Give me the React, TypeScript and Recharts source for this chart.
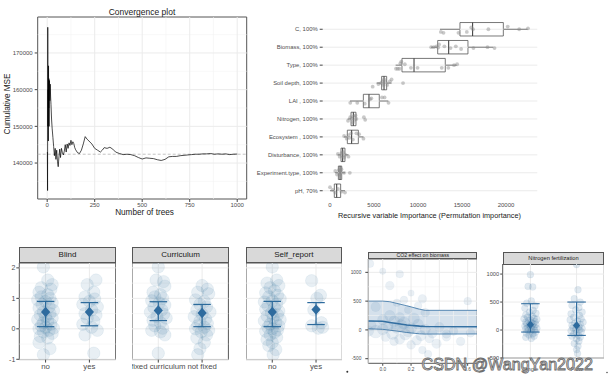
import React from 'react';
import {
  LineChart, Line, XAxis, YAxis, ReferenceLine, ReferenceArea,
  ScatterChart, Scatter, ComposedChart, Area,
} from 'recharts';

const FONT = "'Liberation Sans', Arial, sans-serif";
const BLUE = '#2E6B9E';

// ---------- Convergence plot ----------
const treeCounts = [1,2,3,4,5,6,7,8,9,10,12,14,16,18,20,23,26,30,34,38,42,46,50,54,58,62,66,70,75,80,85,90,95,100,105,110,115,120,125,130,135,140,145,150,160,170,180,190,200,210,220,235,250,265,280,290,300,315,330,345,360,380,400,420,440,460,480,500,520,540,560,580,600,620,640,660,680,700,720,740,760,780,800,820,840,860,880,900,920,940,960,980,1000];
const cumulativeMse = [143000,132500,177000,150000,160000,146000,166500,155000,163000,150000,162500,157000,161500,158000,156000,152000,149500,147000,144500,142000,144000,141000,143500,140500,139000,141800,143800,141500,144000,142800,142200,143200,145000,143000,145200,144000,145500,144800,146200,145000,145800,145300,144200,143600,142800,142600,143500,145200,147200,146500,146000,145200,144000,143500,143000,143500,144200,144000,144300,143800,143000,142600,142300,142400,142300,142000,141500,141100,141400,141300,141200,140900,140700,141000,141700,141800,141800,142000,142100,142200,142300,142400,142400,142500,142500,142600,142400,142500,142400,142500,142300,142400,142450];
const convXTicks = [0, 250, 500, 750, 1000];
const convXMinor = [125, 375, 625, 875];
const convYTicks = [140000, 150000, 160000, 170000];
const convYMinor = [135000, 145000, 155000, 165000, 175000];
const convFinalMse = 142400;

// ---------- Importance boxplot ----------
const impLabels = ['C, 100%','Biomass, 100%','Type, 100%','Soil depth, 100%','LAI , 100%','Nitrogen, 100%','Ecosystem , 100%','Disturbance, 100%','Experiment.type, 100%','pH, 70%'];
const boxMin = [12500, 11480, 7460, 5300, 2270, 2010, 1590, 870, 570, 0];
const boxQ1  = [14770, 12240, 8180, 5870, 3790, 2390, 1970, 1250, 950, 490];
const boxMed = [16210, 13490, 9550, 6140, 4430, 2650, 2460, 1440, 1140, 760];
const boxQ3  = [19700, 15680, 13100, 6440, 5600, 2950, 3220, 1700, 1330, 1210];
const boxMax = [22460, 18560, 14400, 7000, 6630, 3030, 3800, 2100, 1700, 1700];
const impXTicks = [0, 5000, 10000, 15000, 20000];
// [row index (0 = C), importance, vertical jitter]
const impPoints: [number, number, number][] = [
  [0,12600,-0.15],[0,12900,-0.2],[0,14600,-0.2],[0,15550,-0.15],[0,16050,0.1],[0,16250,0.0],[0,18000,0.0],[0,20200,0.15],[0,21500,0.0],[0,22500,0.05],
  [1,11500,0],[1,11800,0.0],[1,12100,0.05],[1,12300,-0.02],[1,12400,0.15],[1,13000,0.05],[1,13700,-0.05],[1,14300,0.05],[1,14900,-0.1],[1,16300,-0.05],[1,17900,0.0],[1,18700,-0.05],
  [2,7500,-0.2],[2,7700,-0.2],[2,7900,-0.2],[2,8000,0.1],[2,8100,0.2],[2,8500,0.05],[2,9200,-0.15],[2,9950,-0.15],[2,12700,-0.15],[2,13450,-0.15],[2,14100,0.0],[2,14450,0.05],
  [3,4850,-0.2],[3,5500,-0.05],[3,5800,0.0],[3,5950,0.1],[3,6050,-0.1],[3,6150,0.2],[3,6300,0.05],[3,6500,-0.1],[3,6800,0.1],[3,7000,0.2],[3,8300,0.0],
  [4,2300,-0.1],[4,3100,-0.1],[4,3950,-0.15],[4,4550,0.1],[4,4700,0.15],[4,5900,0.2],[4,6200,0.2],[4,6650,-0.1],
  [5,2050,-0.1],[5,2300,0.1],[5,2500,0.0],[5,2600,-0.2],[5,2700,0.15],[5,2800,-0.05],[5,2900,0.2],[5,3000,0.0],[5,3850,0.1],[5,4000,-0.05],
  [6,1600,0.05],[6,1900,-0.1],[6,2100,0.1],[6,2200,-0.05],[6,2400,0.2],[6,2600,-0.15],[6,3000,0.2],[6,3300,0.15],[6,3800,-0.1],
  [7,900,0.05],[7,1100,-0.1],[7,1300,0.1],[7,1400,-0.05],[7,1500,0.15],[7,1600,-0.15],[7,1750,0.0],[7,2100,-0.1],
  [8,600,0.1],[8,800,-0.1],[8,1000,0.15],[8,1100,-0.1],[8,1200,0.05],[8,1300,0.2],[8,1600,0.0],[8,2250,0.0],
  [9,0,0.2],[9,300,0.05],[9,600,-0.1],[9,900,0.1],[9,1300,-0.05],[9,1700,-0.1],
];

// ---------- Facet panels (effect sizes) ----------
const blindCats = ['no', 'yes'];
const currCats = ['fixed curriculum', 'not fixed'];
const selfCats = ['no', 'yes'];
const blindNo: [number, number][] = [[-0.05,2.03],[0.05,1.6],[0.15,1.45],[-0.1,1.35],[0.12,1.3],[-0.15,1.2],[0.05,1.12],[-0.1,1.05],[0.1,1.0],[-0.18,0.95],[0.0,0.9],[0.15,0.85],[-0.08,0.8],[0.08,0.72],[-0.15,0.68],[0.18,0.6],[-0.05,0.55],[0.1,0.5],[-0.12,0.45],[0.0,0.4],[0.15,0.35],[-0.18,0.3],[0.05,0.25],[-0.05,0.2],[0.12,0.15],[-0.1,0.1],[0.0,0.05],[0.18,0.02],[-0.15,0.0],[0.08,-0.05],[-0.05,-0.1],[0.15,-0.15],[-0.12,-0.25],[0.05,-0.3],[-0.15,-0.45],[0.1,-0.65],[-0.05,-0.85]];
const blindYes: [number, number][] = [[0.15,1.6],[-0.05,1.45],[0.1,1.2],[-0.1,1.05],[0.12,0.98],[0.0,0.9],[-0.15,0.8],[0.18,0.72],[0.05,0.62],[-0.1,0.5],[0.15,0.45],[-0.05,0.35],[0.1,0.25],[-0.15,0.15],[0.05,0.05],[0.18,-0.05],[-0.1,-0.2],[0.1,-0.8]];
const currFixed: [number, number][] = [[0.0,2.03],[-0.05,1.6],[0.12,1.55],[0.15,1.4],[-0.12,1.2],[0.05,1.12],[-0.08,1.05],[0.1,1.0],[-0.15,0.92],[0.02,0.85],[0.15,0.78],[-0.1,0.7],[0.08,0.62],[-0.18,0.55],[0.12,0.48],[-0.03,0.4],[0.18,0.35],[-0.12,0.28],[0.05,0.2],[-0.08,0.1],[0.1,0.02],[-0.15,-0.05],[0.05,-0.1],[0.15,-0.2],[0.0,-0.8]];
const currNotFixed: [number, number][] = [[0.0,1.42],[0.12,1.3],[-0.1,1.2],[0.15,1.15],[-0.15,0.95],[0.05,0.9],[-0.05,0.8],[0.1,0.72],[-0.12,0.62],[0.18,0.55],[0.0,0.48],[-0.18,0.4],[0.08,0.32],[-0.05,0.25],[0.12,0.18],[-0.1,0.1],[0.05,0.05],[-0.15,0.0],[0.15,-0.05],[-0.02,-0.1],[0.1,-0.2],[-0.12,-0.3],[0.05,-0.45],[-0.05,-0.65],[-0.1,-0.85]];
const selfNo: [number, number][] = [[0.0,2.03],[0.1,1.6],[-0.12,1.5],[0.15,1.42],[-0.05,1.35],[0.05,1.25],[-0.15,1.18],[0.12,1.1],[-0.08,1.05],[0.18,0.98],[0.0,0.92],[-0.18,0.88],[0.1,0.82],[-0.1,0.76],[0.05,0.7],[-0.15,0.64],[0.15,0.58],[-0.02,0.52],[0.12,0.46],[-0.12,0.42],[0.02,0.36],[0.18,0.3],[-0.18,0.26],[0.08,0.2],[-0.05,0.15],[0.15,0.1],[-0.1,0.05],[0.0,0.0],[0.12,-0.04],[-0.15,-0.08],[0.05,-0.12],[-0.05,-0.2],[0.1,-0.28],[-0.12,-0.35],[0.0,-0.45],[-0.08,-0.55],[0.08,-0.68],[0.02,-0.85]];
const selfYes: [number, number][] = [[-0.1,1.58],[0.1,1.1],[0.02,1.0],[-0.05,0.62],[0.12,0.2],[-0.1,0.1],[0.05,0.02],[0.15,0.05]];
const blindMean = [0.55, 0.55], blindLo = [0.07, 0.1], blindHi = [0.9, 0.86];
const currMean = [0.6, 0.52], currLo = [0.27, 0.07], currHi = [0.89, 0.8];
const selfMean = [0.55, 0.63], selfLo = [0.07, 0.14], selfHi = [0.9, 0.86];
const facetYTicks = [-1, 0, 1, 2];
const facetYMinor = [-0.5, 0.5, 1.5];

// ---------- CO2 effect on biomass ----------
const co2X     = [-0.102, 0.0, 0.05, 0.1, 0.17, 0.26, 0.3, 0.668];
const co2Upper = [500, 500, 490, 460, 420, 360, 340, 340];
const co2Mid   = [155, 150, 130, 110, 85, 65, 60, 55];
const co2Lower = [20, 10, -5, -20, -45, -68, -72, -70];
// [co2 increase, biomass effect, weight]
const co2Points: [number, number, number][] = [[-0.09,1150,2],[0.0,1020,1],[0.12,970,2],[0.05,770,3],[0.2,640,1],[0.28,540,3],[0.15,520,2],[0.6,500,2],[0.1,470,2],[0.25,420,2],[-0.05,400,4],[0.18,350,2],[0.3,300,3],[0.05,250,5],[0.12,220,4],[0.22,200,6],[0.0,180,5],[0.08,150,6],[0.15,120,8],[0.25,100,5],[-0.08,80,4],[0.03,60,8],[0.1,40,7],[0.2,30,6],[0.3,10,5],[0.4,50,4],[0.5,-20,3],[-0.05,-30,9],[0.07,-60,8],[0.16,-80,6],[0.27,-100,5],[0.35,-60,4],[-0.1,-20,5],[0.02,-120,4],[0.12,-160,5],[0.24,-180,4],[0.33,-150,3],[0.45,-120,3],[0.55,-200,3],[0.2,-260,3],[0.38,-240,4],[0.28,-350,2],[0.32,-420,2],[0.45,-70,3],[0.62,-50,3],[0.08,-200,3],[0.0,10,6],[0.13,80,7],[0.18,-20,7]];
const co2XTicks = [0, 0.2, 0.4, 0.6];
const co2XMinor = [-0.1, 0.1, 0.3, 0.5];
const bigYTicks = [-500, 0, 500, 1000];
const bigYMinor = [-250, 250, 750];

// ---------- Nitrogen fertilization ----------
const nitroCats = ['Single', 'Flow'];
const nitroSingle: [number, number][] = [[0.0,990],[-0.05,780],[0.05,770],[0.02,520],[-0.08,480],[0.1,430],[-0.12,390],[0.06,350],[-0.02,320],[0.12,300],[-0.1,270],[0.04,250],[-0.06,230],[0.08,210],[-0.14,200],[0.14,190],[0.0,180],[-0.04,165],[0.1,150],[-0.1,140],[0.02,130],[0.06,120],[-0.08,110],[0.12,100],[-0.02,90],[0.04,80],[-0.12,70],[0.08,60],[0.0,50],[-0.06,40],[0.14,30],[-0.1,20],[0.03,10],[0.09,0],[-0.05,-10],[0.0,-25],[0.11,-40],[-0.09,-55],[0.05,-70],[-0.03,-90],[0.08,-110],[-0.1,-130],[0.02,-150]];
const nitroSecond: [number, number][] = [[0.0,1170],[0.03,720],[-0.05,560],[0.08,500],[-0.1,440],[0.05,400],[-0.02,360],[0.12,320],[-0.12,290],[0.06,260],[-0.06,230],[0.1,200],[-0.14,180],[0.02,160],[0.14,140],[-0.04,120],[0.08,100],[-0.1,85],[0.0,70],[0.05,55],[-0.08,40],[0.12,25],[-0.02,10],[0.06,0],[-0.12,-15],[0.1,-30],[0.0,-50],[-0.06,-70],[0.04,-90],[-0.1,-110],[0.08,-130],[0.0,-160],[0.05,-200],[-0.05,-240],[0.03,-290],[0.0,-350],[0.02,-420]];
const nitroMean = [95, 82], nitroLo = [-36, -96], nitroHi = [470, 500];

// ---------- helpers ----------
const xTick = (size: number, fmt: (v: any) => string = (v) => String(v)) => (p: any) => (
  <text x={p.x} y={p.y} dy="0.72em" textAnchor="middle" fontSize={size} fill="#4D4D4D" fontFamily={FONT}>
    {fmt(p.payload.value)}
  </text>
);
const yTick = (size: number, fmt: (v: any) => string = (v) => String(v)) => (p: any) => (
  <text x={p.x} y={p.y} dy="0.36em" textAnchor="end" fontSize={size} fill="#4D4D4D" fontFamily={FONT}>
    {fmt(p.payload.value)}
  </text>
);
const hLines = (vals: number[], color: string, w: number, pfx: string) =>
  vals.map((v) => <ReferenceLine key={pfx + v} y={v} stroke={color} strokeWidth={w} />);
const vLines = (vals: number[], color: string, w: number, pfx: string) =>
  vals.map((v) => <ReferenceLine key={pfx + v} x={v} stroke={color} strokeWidth={w} />);
const border = (x1: number, x2: number, y1: number, y2: number) => (
  <ReferenceArea x1={x1} x2={x2} y1={y1} y2={y2} fill="none" fillOpacity={0} stroke="#555" strokeWidth={1} ifOverflow="visible" />
);
const diamond = (hw: number, hh: number) => (p: any) => (
  <polygon points={`${p.cx},${p.cy - hh} ${p.cx + hw},${p.cy} ${p.cx},${p.cy + hh} ${p.cx - hw},${p.cy}`} fill={BLUE} />
);
const errorBars = (means: number[], lo: number[], hi: number[], half: number, pfx: string, w: number) =>
  means.flatMap((_, i) => {
    const c = i + 1;
    return [
      <ReferenceLine key={pfx + 'v' + i} segment={[{ x: c, y: lo[i] }, { x: c, y: hi[i] }]} stroke={BLUE} strokeWidth={w} ifOverflow="visible" />,
      <ReferenceLine key={pfx + 'l' + i} segment={[{ x: c - half, y: lo[i] }, { x: c + half, y: lo[i] }]} stroke={BLUE} strokeWidth={w} ifOverflow="visible" />,
      <ReferenceLine key={pfx + 'h' + i} segment={[{ x: c - half, y: hi[i] }, { x: c + half, y: hi[i] }]} stroke={BLUE} strokeWidth={w} ifOverflow="visible" />,
    ];
  });

function Strip({ left, top, width, height, text, size }: any) {
  return (
    <div style={{
      position: 'absolute', left, top, width, height, boxSizing: 'border-box',
      border: '1px solid #555', background: '#D9D9D9', color: '#1A1A1A',
      fontSize: size, lineHeight: `${height - 2}px`, textAlign: 'center', whiteSpace: 'nowrap', overflow: 'hidden',
    }}>{text}</div>
  );
}

function Convergence() {
  const data = treeCounts.map((t, i) => ({ trees: t, mse: cumulativeMse[i] }));
  return (
    <div style={{ position: 'absolute', left: 0, top: 0 }}>
      <LineChart width={250} height={220} data={data} margin={{ top: 17, right: 3.3, bottom: 0, left: 0 }}>
        <XAxis type="number" dataKey="trees" domain={[-49.95, 1049.95]} allowDataOverflow ticks={convXTicks} interval={0}
          height={21} tickSize={3} tickMargin={1} axisLine={false} tickLine={{ stroke: '#444' }} tick={xTick(6)} />
        <YAxis type="number" domain={[130200, 179800]} allowDataOverflow ticks={convYTicks} interval={0}
          width={37.7} tickSize={3} tickMargin={2} axisLine={false} tickLine={{ stroke: '#444' }} tick={yTick(6)} />
        {hLines(convYMinor, '#F4F4F4', 0.6, 'ym')}
        {vLines(convXMinor, '#F4F4F4', 0.6, 'xm')}
        {hLines(convYTicks, '#EBEBEB', 1, 'yM')}
        {vLines(convXTicks, '#EBEBEB', 1, 'xM')}
        <ReferenceLine y={convFinalMse} stroke="#BDBDBD" strokeDasharray="3 2" strokeWidth={0.9} />
        <Line dataKey="mse" stroke="#000" strokeWidth={0.7} dot={false} isAnimationActive={false} />
        {border(-49.95, 1049.95, 130200, 179800)}
      </LineChart>
    </div>
  );
}

function Importance() {
  const pts = impPoints.map(([r, v, j]) => ({ x: v, y: 10 - r + j }));
  return (
    <div style={{ position: 'absolute', left: 250, top: 0 }}>
      <ComposedChart width={359} height={220} margin={{ top: 18.5, right: 71.7, bottom: 0, left: 0 }}>
        <XAxis type="number" dataKey="x" domain={[-830, 23560]} allowDataOverflow ticks={impXTicks} interval={0}
          height={18.5} tickSize={0} tickMargin={1} axisLine={false} tickLine={false} tick={xTick(6)} />
        <YAxis type="number" dataKey="y" domain={[0.4, 10.6]} allowDataOverflow ticks={[1,2,3,4,5,6,7,8,9,10]} interval={0}
          width={72.7} tickSize={3} tickMargin={2}
          axisLine={false} tickLine={{ stroke: '#444' }} tick={yTick(5.9, (v: number) => impLabels[10 - v])} />
        {hLines([1,2,3,4,5,6,7,8,9,10], '#EBEBEB', 1, 'g')}
        {impLabels.flatMap((_, i) => {
          const row = 10 - i;
          return [
            <ReferenceLine key={'wl' + i} segment={[{ x: boxMin[i], y: row }, { x: boxQ1[i], y: row }]} stroke="#555" strokeWidth={0.8} />,
            <ReferenceLine key={'wr' + i} segment={[{ x: boxQ3[i], y: row }, { x: boxMax[i], y: row }]} stroke="#555" strokeWidth={0.8} />,
            <ReferenceArea key={'bx' + i} x1={boxQ1[i]} x2={boxQ3[i]} y1={row - 0.375} y2={row + 0.375} fill="#fff" fillOpacity={0} stroke="#555" strokeWidth={0.8} />,
            <ReferenceLine key={'md' + i} segment={[{ x: boxMed[i], y: row - 0.375 }, { x: boxMed[i], y: row + 0.375 }]} stroke="#333" strokeWidth={1} />,
          ];
        })}
        <Scatter data={pts} isAnimationActive={false}
          shape={(p: any) => <circle cx={p.cx} cy={p.cy} r={1.9} fill="#888" fillOpacity={0.45} />} />
      </ComposedChart>
    </div>
  );
}

function Facet({ plotLeft, plotWidth, title, cats, g1, g2, mean, lo, hi, showY }: any) {
  const yW = showY ? 19.3 : 0;
  const plotTop = 262.7, plotH = 96.6;
  const pts = [
    ...g1.map(([dx, y]: number[]) => ({ x: 1 + dx, y })),
    ...g2.map(([dx, y]: number[]) => ({ x: 2 + dx, y })),
  ];
  const means = mean.map((m: number, i: number) => ({ x: i + 1, y: m }));
  return (
    <>
      <Strip left={plotLeft} top={246.7} width={plotWidth} height={16.5} text={title} size={8} />
      <div style={{ position: 'absolute', left: plotLeft - yW, top: plotTop }}>
        <ScatterChart width={yW + plotWidth} height={plotH + 20} margin={{ top: 0, right: 0, bottom: 0, left: 0 }}>
          <XAxis type="number" dataKey="x" domain={[0.4, 2.6]} allowDataOverflow ticks={[1, 2]} interval={0}
            height={20} tickSize={3} tickMargin={1}
            axisLine={false} tickLine={{ stroke: '#444' }} tick={xTick(7.8, (v: number) => cats[v - 1])} />
          <YAxis type="number" dataKey="y" domain={[-1.01, 2.16]} allowDataOverflow ticks={facetYTicks} interval={0}
            width={yW} hide={!showY} tickSize={3} tickMargin={1} axisLine={false} tickLine={{ stroke: '#444' }} tick={yTick(7)} />
          {hLines(facetYMinor, '#F4F4F4', 0.6, 'm')}
          {hLines(facetYTicks, '#EBEBEB', 1, 'M')}
          {vLines([1, 2], '#EBEBEB', 1, 'v')}
          <Scatter data={pts} isAnimationActive={false}
            shape={(p: any) => <circle cx={p.cx} cy={p.cy} r={6.2} fill={BLUE} fillOpacity={0.11} stroke={BLUE} strokeOpacity={0.12} strokeWidth={0.6} />} />
          {errorBars(mean, lo, hi, 0.2, 'e', 1.2)}
          <Scatter data={means} isAnimationActive={false} shape={diamond(4.6, 5.2)} />
          {border(0.4, 2.6, -1.01, 2.16)}
        </ScatterChart>
      </div>
    </>
  );
}

function Co2Panel() {
  const band = co2X.map((x, i) => ({ x, band: [co2Lower[i], co2Upper[i]], hi: co2Upper[i], lo: co2Lower[i], mid: co2Mid[i] }));
  const pts = co2Points.map(([x, y, w]) => ({ x, y, w }));
  return (
    <>
      <Strip left={368.3} top={251.5} width={109} height={7.8} text="CO2 effect on biomass" size={5.2} />
      <div style={{ position: 'absolute', left: 340, top: 259 }}>
        <ComposedChart width={28.3 + 109} height={104.3 + 12} data={band} margin={{ top: 0, right: 0, bottom: 0, left: 0 }}>
          <XAxis type="number" dataKey="x" domain={[-0.102, 0.668]} allowDataOverflow ticks={co2XTicks} interval={0}
            height={12} tickSize={2.5} tickMargin={1.5}
            axisLine={false} tickLine={{ stroke: '#444' }} tick={xTick(4.8, (v: number) => v.toFixed(1))} />
          <YAxis type="number" dataKey="y" domain={[-580, 1232]} allowDataOverflow ticks={bigYTicks} interval={0}
            width={28.3} tickSize={3} tickMargin={4} axisLine={false} tickLine={{ stroke: '#444' }} tick={yTick(4.8)} />
          {hLines(bigYMinor, '#F4F4F4', 0.6, 'm')}
          {vLines(co2XMinor, '#F4F4F4', 0.6, 'vm')}
          {hLines(bigYTicks, '#EBEBEB', 1, 'M')}
          {vLines(co2XTicks, '#EBEBEB', 1, 'vM')}
          <Scatter data={pts} isAnimationActive={false}
            shape={(p: any) => <circle cx={p.cx} cy={p.cy} r={1.6 + Math.sqrt(p.payload.w) * 1.6} fill={BLUE} fillOpacity={0.1} stroke={BLUE} strokeOpacity={0.08} strokeWidth={0.5} />} />
          <Area dataKey="band" type="linear" fill={BLUE} fillOpacity={0.2} stroke="none" isAnimationActive={false} />
          <Line dataKey="hi" type="linear" stroke="#4A7FAD" strokeWidth={0.9} dot={false} isAnimationActive={false} />
          <Line dataKey="lo" type="linear" stroke="#4A7FAD" strokeWidth={0.9} dot={false} isAnimationActive={false} />
          <Line dataKey="mid" type="linear" stroke="#3571A3" strokeWidth={1.6} dot={false} isAnimationActive={false} />
          {border(-0.102, 0.668, -580, 1232)}
        </ComposedChart>
      </div>
    </>
  );
}

function NitroPanel() {
  const pts = [
    ...nitroSingle.map(([dx, y]) => ({ x: 1 + dx, y })),
    ...nitroSecond.map(([dx, y]) => ({ x: 2 + dx, y })),
  ];
  const means = nitroMean.map((m, i) => ({ x: i + 1, y: m }));
  return (
    <>
      <Strip left={502.7} top={252.3} width={101.6} height={12.3} text="Nitrogen fertilization" size={5.7} />
      <div style={{ position: 'absolute', left: 470, top: 264.3 }}>
        <ScatterChart width={32.7 + 101.6} height={94 + 18} margin={{ top: 0, right: 0, bottom: 0, left: 0 }}>
          <XAxis type="number" dataKey="x" domain={[0.4, 2.6]} allowDataOverflow ticks={[1, 2]} interval={0}
            height={18} tickSize={2.5} tickMargin={6}
            axisLine={false} tickLine={{ stroke: '#444' }} tick={xTick(5.7, (v: number) => nitroCats[v - 1])} />
          <YAxis type="number" dataKey="y" domain={[-500, 1180]} allowDataOverflow ticks={bigYTicks} interval={0}
            width={32.7} tickSize={2.5} tickMargin={1} axisLine={false} tickLine={{ stroke: '#444' }} tick={yTick(5.7)} />
          {hLines(bigYMinor, '#F4F4F4', 0.6, 'm')}
          {hLines(bigYTicks, '#EBEBEB', 1, 'M')}
          {vLines([1, 2], '#EBEBEB', 1, 'v')}
          <Scatter data={pts} isAnimationActive={false}
            shape={(p: any) => <circle cx={p.cx} cy={p.cy} r={3.4} fill={BLUE} fillOpacity={0.14} stroke={BLUE} strokeOpacity={0.12} strokeWidth={0.5} />} />
          {errorBars(nitroMean, nitroLo, nitroHi, 0.2, 'e', 1.1)}
          <Scatter data={means} isAnimationActive={false} shape={diamond(3.6, 4.2)} />
          {border(0.4, 2.6, -500, 1180)}
        </ScatterChart>
      </div>
    </>
  );
}

function Overlay() {
  return (
    <svg width={609} height={383} style={{ position: 'absolute', left: 0, top: 0, pointerEvents: 'none', fontFamily: FONT }}>
      <text x={142} y={11.7} textAnchor="middle" dominantBaseline="central" fontSize={8.5} fill="#1A1A1A">Convergence plot</text>
      <text x={144.5} y={212.7} textAnchor="middle" dominantBaseline="central" fontSize={8.2} fill="#1A1A1A">Number of trees</text>
      <text transform="translate(7.5,104) rotate(-90)" textAnchor="middle" dominantBaseline="central" fontSize={8.2} fill="#1A1A1A">Cumulative MSE</text>
      <text x={429.5} y={215} textAnchor="middle" dominantBaseline="central" fontSize={7.3} fill="#1A1A1A">Recursive variable Importance (Permutation importance)</text>
      <circle cx={347.3} cy={371.7} r={1} fill="#333" />
      <circle cx={479.3} cy={371.7} r={0.8} fill="#555" />
      <circle cx={607} cy={372.5} r={0.8} fill="#555" />
      <text x={421.5} y={370} fontSize={16} textLength={171.5} lengthAdjust="spacingAndGlyphs"
        fill="#FFFFFF" fillOpacity={0.85} stroke="#6E6E6E" strokeWidth={0.9}>CSDN @WangYan2022</text>
    </svg>
  );
}

export default function App() {
  return (
    <div style={{ position: 'absolute', left: 0, top: 0, width: 609, height: 383, background: '#fff', fontFamily: FONT, overflow: 'hidden' }}>
      <Convergence />
      <Importance />
      <Facet plotLeft={19.3} plotWidth={96.4} title="Blind" cats={blindCats} g1={blindNo} g2={blindYes}
        mean={blindMean} lo={blindLo} hi={blindHi} showY />
      <Facet plotLeft={132.3} plotWidth={96.4} title="Curriculum" cats={currCats} g1={currFixed} g2={currNotFixed}
        mean={currMean} lo={currLo} hi={currHi} showY={false} />
      <Facet plotLeft={245.7} plotWidth={96.3} title="Self_report" cats={selfCats} g1={selfNo} g2={selfYes}
        mean={selfMean} lo={selfLo} hi={selfHi} showY={false} />
      <Co2Panel />
      <NitroPanel />
      <Overlay />
    </div>
  );
}
